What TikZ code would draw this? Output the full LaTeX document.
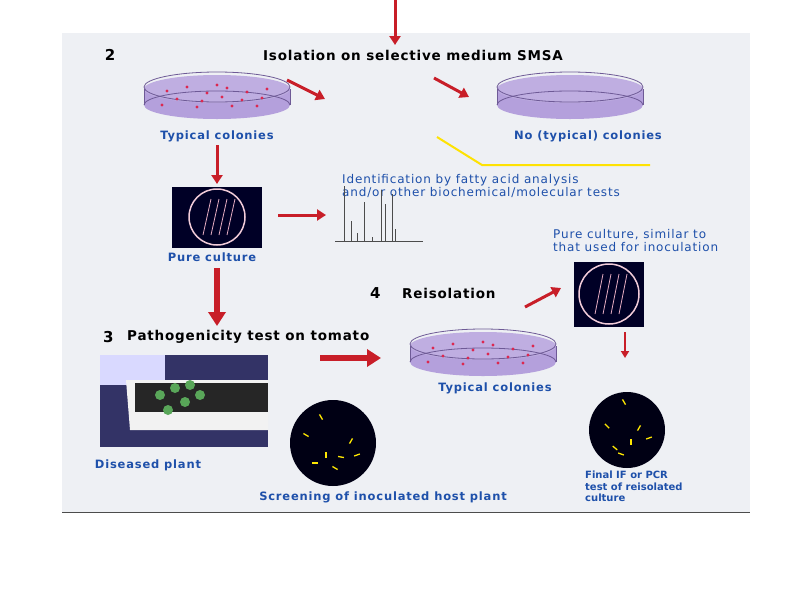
\documentclass[tikz,border=0pt]{standalone}
\usepackage{fontspec}
\setmainfont{DejaVu Sans}
\newfontfamily\wideA{DejaVu Sans}[LetterSpace=7]
\newfontfamily\wideB{DejaVu Sans}[LetterSpace=6]
\usetikzlibrary{arrows.meta,calc}
\definecolor{bg}{RGB}{238,240,244}
\definecolor{arr}{RGB}{200,30,40}
\definecolor{lbl}{RGB}{30,80,170}
\definecolor{med}{RGB}{180,160,220}
\definecolor{rim}{RGB}{110,90,150}
\definecolor{col}{RGB}{220,40,80}
\tikzset{
 redarr/.style={draw=arr,line width=3pt,-{Triangle[length=9pt,width=11pt]}},
 bigarr/.style={draw=arr,line width=6pt,-{Triangle[length=14pt,width=17pt]}},
 lab/.style={text=lbl,font=\wideA\fontsize{11.5}{13}\selectfont\bfseries,inner sep=0pt},
 labr/.style={text=lbl,font=\wideA\fontsize{12}{13}\selectfont,inner sep=0pt,align=left},
 head/.style={text=black,font=\wideB\fontsize{13.5}{14}\selectfont\bfseries,inner sep=0pt},
 num/.style={text=black,font=\fontsize{15}{15}\selectfont\bfseries,inner sep=0pt},
 photo/.style={fill=black!85!blue,draw=none},
 plate/.style={fill=black!92!blue,draw=none}
}
\newcommand{\dish}[3]{% x y colonies
 \fill[med] (#1-73,#2-8) rectangle (#1+73,#2+8);
 \fill[med] (#1,#2+8) ellipse (73 and 14);
 \fill[med!85!white] (#1,#2-8) ellipse (73 and 14);
 \draw[rim,thick] (#1,#2-10) ellipse (73 and 15);
 \draw[rim,thick] (#1-73,#2-8) -- (#1-73,#2+8) (#1+73,#2-8)--(#1+73,#2+8);
 \draw[rim,thick] (#1-73,#2+8) arc[start angle=180,end angle=360,x radius=73,y radius=14];
 \ifnum#3=1
 \foreach \a/\b in {-50/-6,-30/-10,-10/-4,10/-9,30/-5,50/-8,-40/2,-15/4,5/0,25/3,45/1,-55/8,-20/10,15/9,40/9,0/-12}
   \fill[col] (#1+\a,#2+\b) circle (1.6);
 \fi
}
\begin{document}
\begin{tikzpicture}[x=1pt,y=-1pt]
\useasboundingbox (0,0) rectangle (800,600);
\fill[white] (0,0) rectangle (800,600);
\fill[bg] (62,33) rectangle (750,512);
\draw[black!70,line width=1pt] (62,512) -- (750,512);
% top
\coordinate (t0) at (395,0); \coordinate (t1) at (395,45);
\draw[redarr] (t0) -- (t1);
\node[num] (n2) at (110,55) {2};
\node[head] (title) at (413,55) {Isolation on selective medium SMSA};
\dish{217}{97}{1}
\dish{570}{97}{0}
\coordinate (a1s) at (287,80); \coordinate (a1e) at (325,99);
\draw[redarr] (a1s) -- (a1e);
\coordinate (a2s) at (434,78); \coordinate (a2e) at (469,97);
\draw[redarr] (a2s) -- (a2e);
\node[lab] (tc1) at (217,136) {Typical colonies};
\node[lab] (ntc) at (588,136) {No (typical) colonies};
\draw[yellow!85!orange,line width=2pt] (437,137) -- (482,165) -- (650,165);
\coordinate (d1s) at (217,145); \coordinate (d1e) at (217,184);
\draw[redarr] (d1s) -- (d1e);
% pure culture 1
\node[photo,minimum width=90pt,minimum height=61pt,inner sep=0pt] (pc1) at (217,217) {};
\draw[white!80!purple,line width=1.5pt] (pc1.center) circle (28);
\foreach \i in {-14,-6,2,10} \draw[white!70!purple,thick] ([xshift=\i pt,yshift=-18pt]pc1.center) -- ([xshift=\i+8 pt,yshift=18pt]pc1.center);
\node[lab] (pcl1) at (212,257) {Pure culture};
\coordinate (r1s) at (278,215); \coordinate (r1e) at (326,215);
\draw[redarr] (r1s) -- (r1e);
\node[labr,anchor=west] (ident) at (342,186) {Identification by fatty acid analysis\\and/or other biochemical/molecular tests};
\draw[black!70] (335,241) -- (423,241);
\foreach \x/\h in {344/55,351/20,357/8,364/39,372/4,381/51,385/37,392/47,395/12} \draw[black!70] (\x,241) -- (\x,241-\h);
% pure culture 2
\node[labr,anchor=west] (pc2t) at (553,241) {Pure culture, similar to\\that used for inoculation};
\node[photo,minimum width=70pt,minimum height=65pt,inner sep=0pt] (pc2) at (609,294) {};
\draw[white!80!purple,line width=1.5pt] (pc2.center) circle (30);
\foreach \i in {-14,-6,2,10} \draw[white!70!purple,thick] ([xshift=\i pt,yshift=-20pt]pc2.center) -- ([xshift=\i+8 pt,yshift=20pt]pc2.center);
\coordinate (b1s) at (217,268); \coordinate (b1e) at (217,326);
\draw[bigarr] (b1s) -- (b1e);
\node[num,anchor=west] (n4) at (370,293) {4};
\node[head,anchor=west] (reis) at (402,293) {Reisolation};
\coordinate (r2s) at (525,307); \coordinate (r2e) at (561,288);
\draw[redarr] (r2s) -- (r2e);
\node[num,anchor=west] (n3) at (103,337) {3};
\node[head,anchor=west] (path) at (127,337) {Pathogenicity test on tomato};
% plant photo
\node[fill=black!75!blue!80!white,minimum width=168pt,minimum height=92pt,inner sep=0pt] (plant) at (184,401) {};
\fill[blue!15!white] (100,355) rectangle (165,385);
\fill[white!90!gray] (126,380) -- (268,380) -- (268,430) -- (130,430) -- cycle;
\fill[black!85] (135,383) rectangle (268,412);
\foreach \p in {(160,395),(175,388),(185,402),(168,410),(200,395),(190,385)} \fill[green!30!gray] \p circle (5);
\node[lab] (dp) at (148,465) {Diseased plant};
\coordinate (b2s) at (320,358); \coordinate (b2e) at (381,358);
\draw[bigarr] (b2s) -- (b2e);
\dish{483}{354}{1}
\node[lab] (tc2) at (495,388) {Typical colonies};
\coordinate (d2s) at (625,332); \coordinate (d2e) at (625,358);
\draw[draw=arr,line width=2pt,-{Triangle[length=7pt,width=8pt]}] (d2s) -- (d2e);
% plates
\node[plate,circle,minimum size=86pt,inner sep=0pt] (p1) at (333,443) {};
\foreach \a/\b/\r in {-12/-26/60,-27/-8/30,-7/12/90,8/14/10,18/-2/120,-18/20/0,2/25/30,24/12/-20} \draw[yellow!90!orange,line width=1.3pt] ($(p1.center)+(\a,\b)$) ++(\r:-3) -- ++(\r:6);
\node[plate,circle,minimum size=76pt,inner sep=0pt] (p2) at (627,430) {};
\foreach \a/\b/\r in {-3/-28/60,-20/-4/45,12/-2/120,4/12/90,-12/18/40,22/8/-20,-6/24/20} \draw[yellow!90!orange,line width=1.3pt] ($(p2.center)+(\a,\b)$) ++(\r:-3) -- ++(\r:6);
\node[lab] (scr) at (383,497) {Screening of inoculated host plant};
\node[lab,anchor=north west,align=left,font=\fontsize{10}{11.5}\selectfont\bfseries] (fin) at (585,471) {Final IF or PCR\\test of reisolated\\culture};
\end{tikzpicture}
\end{document}
